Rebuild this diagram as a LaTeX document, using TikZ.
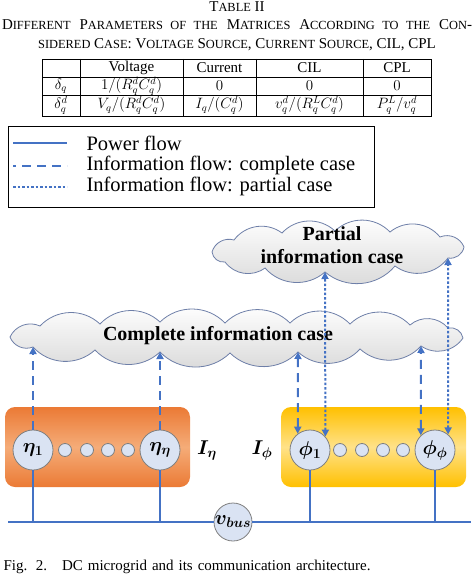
\RequirePackage{fix-cm}
\documentclass[tikz,border=0pt]{standalone}
\usepackage{amsmath}
\usepackage{fontspec}
\setmainfont{Liberation Serif}
\usepackage{tikz}
\usetikzlibrary{arrows.meta}

\definecolor{flowblue}{HTML}{4472C4}
\definecolor{nodefill}{HTML}{DAE3F3}
\definecolor{nodeline}{HTML}{7F7F7F}
\definecolor{cloudline}{HTML}{6E7FA8}
\definecolor{ortop}{HTML}{EB7A35}
\definecolor{ormid}{HTML}{F5AC78}
\definecolor{yetop}{HTML}{FFC000}
\definecolor{yemid}{HTML}{FFE289}

\newcommand{\smc}[1]{{\fontsize{12.4}{14}\selectfont #1}}

\tikzset{
    unit/.style={circle, draw=nodeline, line width=0.8pt, fill=nodefill, minimum size=40pt, inner sep=0pt,
        font=\fontsize{20}{20}\selectfont\boldmath},
    dot/.style={circle, draw=nodeline, line width=0.8pt, fill=nodefill, minimum size=13pt, inner sep=0pt},
    power/.style={flowblue, line width=2pt},
    complete/.style={flowblue, line width=2pt, dash pattern=on 9pt off 6pt},
    partial/.style={flowblue, line width=2pt, dash pattern=on 2.5pt off 2pt},
    cloudpath/.style={draw=cloudline, line width=0.8pt, top color=white, bottom color=gray!30},
    puff/.style={bend left=45},
    cloudtext/.style={align=center, font=\bfseries\fontsize{20}{23}\selectfont},
    srcbox/.style={rounded corners=10pt, minimum width=185pt, minimum height=80pt},
    >={Triangle[length=7pt,width=7pt]}
}

\begin{document}
\begin{tikzpicture}[x=1pt, y=-1pt]
    \useasboundingbox (0,0) rectangle (474,575);

    % table caption
    \node[anchor=base, inner sep=0pt, font=\fontsize{15}{18}\selectfont] (tabnum) at (237,12) {T\smc{ABLE} II};
    \node[anchor=base, inner sep=0pt, font=\fontsize{15}{18}\selectfont] (tabtitle1) at (237,30)
        {\makebox[470pt][s]{D\smc{IFFERENT} P\smc{ARAMETERS OF THE} M\smc{ATRICES} A\smc{CCORDING TO THE} C\smc{ON}-}};
    \node[anchor=base, inner sep=0pt, font=\fontsize{15}{18}\selectfont] (tabtitle2) at (237,49)
        {\smc{SIDERED} C\smc{ASE}: V\smc{OLTAGE} S\smc{OURCE}, C\smc{URRENT} S\smc{OURCE}, CIL, CPL};

    % table
    \draw[line width=0.6pt]
        (42,59) rectangle (431,116)
        (42,77) -- (431,77)
        (42,95) -- (431,95);
    \foreach \xc in {80,183,256,363}
        \draw[line width=0.6pt] (\xc,59) -- (\xc,116);

    \begin{scope}[every node/.style={font=\fontsize{15}{18}\selectfont, inner sep=0pt}]
        \node (hvolt) at (131.5,68) {Voltage};
        \node (hcurr) at (219.5,68) {Current};
        \node (hcil) at (309.5,68) {CIL};
        \node (hcpl) at (397,68) {CPL};
        \node (rdelta) at (61,86) {$\delta_q$};
        \node (dvolt) at (131.5,86) {$1/(R_q^dC_q^d)$};
        \node (dcurr) at (219.5,86) {$0$};
        \node (dcil) at (309.5,86) {$0$};
        \node (dcpl) at (397,86) {$0$};
        \node (rdeltad) at (61,105.5) {$\delta_q^d$};
        \node (ddvolt) at (131.5,105.5) {$V_q/(R_q^dC_q^d)$};
        \node (ddcurr) at (219.5,105.5) {$I_q/(C_q^d)$};
        \node (ddcil) at (309.5,105.5) {$v_q^d/(R_q^LC_q^d)$};
        \node (ddcpl) at (397,105.5) {$P_q^L/v_q^d$};
    \end{scope}

    % legend
    \draw[line width=0.8pt] (8,126) rectangle (374,207);
    \draw[power] (13,143) -- (67,143);
    \draw[complete, dash phase=6pt] (13,166) -- (67,166);
    \draw[partial] (13,187) -- (67,187);
    \node[anchor=west, font=\fontsize{20.5}{22}\selectfont] (legpower) at (83,143) {Power flow};
    \node[anchor=west, font=\fontsize{20.5}{22}\selectfont] (legcomplete) at (83,165) {Information flow: complete case};
    \node[anchor=west, font=\fontsize{20.5}{22}\selectfont] (legpartial) at (83,186) {Information flow: partial case};

    % source groups
    \node[srcbox, top color=ortop, bottom color=ortop, middle color=ormid] (etabox) at (97.5,447) {};
    \node[srcbox, top color=yetop, bottom color=yetop, middle color=yemid] (phibox) at (373.5,447) {};

    % clouds
    \draw[cloudpath] (10,337) to[puff] (40,326) to[puff] (100,324) to[puff] (160,322)
        to[puff] (225,323) to[puff] (290,323) to[puff] (350,324) to[puff] (410,325)
        to[puff] (448,328) to[puff] (463,338) to[puff] (421,346) to[puff] (360,349)
        to[puff] (298,352) to[puff] (230,353) to[puff] (160,352) to[puff] (95,350)
        to[puff] (33,347) to[puff] (10,337) -- cycle;
    \draw[cloudpath] (212,252) to[puff] (234,240) to[puff] (282,233) to[puff] (335,231)
        to[puff] (390,232) to[puff] (440,237) to[puff] (464,247) to[puff] (448,258)
        to[puff] (395,266) to[puff] (325,272) to[puff] (265,268) to[puff] (225,262)
        to[puff] (212,252) -- cycle;
    \node[cloudtext] (completecloud) at (218,336) {Complete information case};
    \node[cloudtext] (partialcloud) at (332,245) {Partial\\information case};

    % units
    \node[unit] (eta1) at (33,450) {$\eta_1$};
    \node[unit] (etaeta) at (160,450) {$\eta_\eta$};
    \node[unit] (phi1) at (310,450) {$\phi_1$};
    \node[unit] (phiphi) at (435,450) {$\phi_\phi$};
    \foreach \xd in {65,87,108,128,340,362,383,403}
        \node[dot] (dot\xd) at (\xd,450) {};

    \node[font=\fontsize{20}{20}\selectfont\boldmath] (ieta) at (207,450) {$I_\eta$};
    \node[font=\fontsize{20}{20}\selectfont\boldmath] (iphi) at (262,450) {$I_\phi$};

    % bus
    \node[unit, minimum size=38pt] (vbus) at (233,522) {$v_{bus}$};
    \coordinate (busleft) at (8,522);
    \coordinate (busright) at (471,522);
    \draw[power] (busleft) -- (vbus) -- (busright);
    \draw[power]
        (eta1) -- (eta1 |- busleft)
        (etaeta) -- (etaeta |- busleft)
        (phi1) -- (phi1 |- busleft)
        (phiphi) -- (phiphi |- busleft);

    % information flow
    \coordinate (cin1) at (33,347);
    \coordinate (cin2) at (160,352);
    \coordinate (cin3) at (298,352);
    \coordinate (cin4) at (421,346);
    \coordinate (pin1) at (325,272);
    \coordinate (pin2) at (448,258);
    \draw[complete, ->] (eta1) -- (cin1);
    \draw[complete, ->] (etaeta) -- (cin2);
    \draw[complete, <->] (phi1.127) -- (cin3);
    \draw[complete, <->] (phiphi.134) -- (cin4);
    \draw[partial, <->] (phi1.41) -- (pin1);
    \draw[partial, <->] (phiphi.50) -- (pin2);

    % figure caption
    \node[anchor=base west, font=\fontsize{15}{18}\selectfont] (figcap) at (0,570)
        {\makebox[367pt][s]{Fig. 2.\quad DC microgrid and its communication architecture.}};
\end{tikzpicture}
\end{document}
